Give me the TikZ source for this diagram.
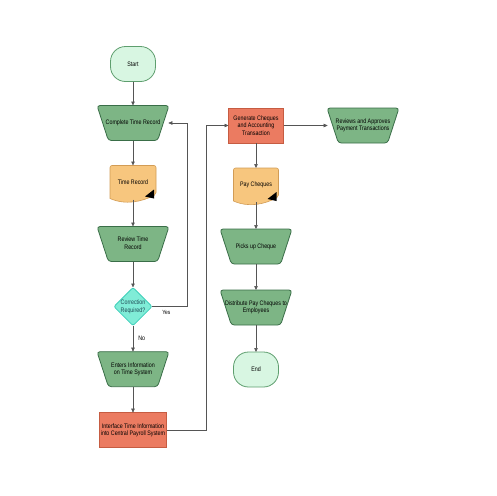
\documentclass[tikz,border=0pt]{standalone}
\usepackage{fontspec}
\newfontfamily\flowfont{Liberation Sans}[FakeStretch=0.82]
\usetikzlibrary{arrows.meta, positioning, shapes.geometric, backgrounds}
\definecolor{termfill}{HTML}{D8F6E2}
\definecolor{termline}{HTML}{5E9E6E}
\definecolor{taskfill}{HTML}{7DB585}
\definecolor{taskline}{HTML}{3A6E48}
\definecolor{docfill}{HTML}{F7C67E}
\definecolor{docline}{HTML}{D29C55}
\definecolor{procfill}{HTML}{EB7B61}
\definecolor{procline}{HTML}{C65C42}
\definecolor{checkfill}{HTML}{80ECD7}
\definecolor{checkline}{HTML}{3CCFB9}
\definecolor{checktext}{HTML}{1F4A55}
\definecolor{linegray}{HTML}{555555}
% text lines of a task shape, allowed to run over its slanted sides
\newcommand{\tlines}[1]{\makebox[0pt]{\begin{tabular}{@{}c@{}}#1\end{tabular}}}

\begin{document}
\begin{tikzpicture}[
  x=1pt, y=1pt,
  every node/.style={font=\flowfont\fontsize{6.5}{7.5}\selectfont, outer sep=0pt},
  term/.style={draw=termline, fill=termfill, rounded corners=15pt, minimum width=45pt, minimum height=35pt, line width=0.8pt},
  task/.style={trapezium, trapezium angle=72, shape border rotate=180, trapezium stretches body, draw=taskline, fill=taskfill, rounded corners=3pt, minimum width=72pt, inner sep=0pt, text height=19.1pt, text depth=15.9pt, line width=0.8pt},
  doc/.style={minimum width=46pt, minimum height=34pt, inner sep=0pt, align=center},
  proc/.style={draw=procline, fill=procfill, minimum height=35pt, inner sep=1pt, align=center, line width=0.6pt},
  check/.style={diamond, draw=checkline, fill=checkfill, text=checktext, rounded corners=2pt, minimum width=36pt, minimum height=34pt, inner sep=0pt, align=center, line width=0.8pt},
  arrow/.style={-{Triangle[length=4pt, width=3.5pt]}, line width=0.6pt, draw=linegray},
]
  \useasboundingbox (0,0) rectangle (496,-496);
  % left column
  \node[term] (start) at (133,-64) {Start};
  \node[task, below=24pt of start] (ctr) {\tlines{Complete Time Record}};
  \node[doc, below=25pt of ctr] (trec) {Time Record};
  \node[task, below=27pt of trec] (rtr) {\tlines{Review Time\\Record}};
  \node[check, below=26pt of rtr] (dia) {Correction\\Required?};
  \node[task, below=26pt of dia] (ent) {\tlines{Enters Information\\on Time System}};
  \node[proc, minimum width=67pt, below=26pt of ent] (iface) {Interface Time Information\\into Central Payroll System};
  % right column
  \node[proc, minimum width=55pt] (gen) at (256,-125.5) {Generate Cheques\\and Accounting\\Transaction};
  \node[task] (rev) at (363,-125.5) {\tlines{Reviews and Approves\\Payment Transactions}};
  \node[doc, minimum width=45pt, below=25pt of gen] (pay) {Pay Cheques};
  \node[task, below=27pt of pay] (pick) {\tlines{Picks up Cheque}};
  \node[task, below=26pt of pick] (dist) {\tlines{Distribute Pay Cheques to\\Employees}};
  \node[term, below=27pt of dist] (end) {End};
  \node[below right=0pt and 7pt of dia.east, font=\flowfont\fontsize{6}{7}\selectfont] (yes) {Yes};

  % document shapes
  \begin{scope}[on background layer]
    \foreach \d in {trec, pay} {
      \draw[draw=docline, fill=docfill, line width=0.6pt, rounded corners=2pt]
        ([yshift=1pt]\d.south west) -- (\d.north west) -- (\d.north east)
        -- ([yshift=5pt]\d.south east) [sharp corners]
        .. controls ([xshift=-14pt, yshift=-2pt]\d.south east) and ([xshift=16pt, yshift=-6pt]\d.south west) .. ([yshift=1pt]\d.south west);
      \fill ([xshift=-11pt, yshift=3pt]\d.south east) -- ([xshift=-2pt, yshift=10pt]\d.south east) -- ([xshift=-2pt, yshift=1pt]\d.south east) -- cycle;
    }
  \end{scope}

  \draw[arrow] (start) -- (ctr);
  \draw[arrow] (ctr) -- (trec);
  \draw[arrow] (trec) -- (rtr);
  \draw[arrow] (rtr) -- (dia);
  \draw[arrow] (dia) -- node[right=2pt] (no) {No} (ent);
  \draw[arrow] (dia.east) -- ++(35,0) |- ([xshift=5pt]ctr.east);
  \draw[arrow] (ent) -- (iface);
  \draw[arrow] (iface.east) -- ++(40,0) |- (gen.west);
  \draw[arrow] (gen) -- ([xshift=-5pt]rev.west);
  \draw[arrow] (gen) -- (pay);
  \draw[arrow] (pay) -- (pick);
  \draw[arrow] (pick) -- (dist);
  \draw[arrow] (dist) -- (end);
\end{tikzpicture}
\end{document}
